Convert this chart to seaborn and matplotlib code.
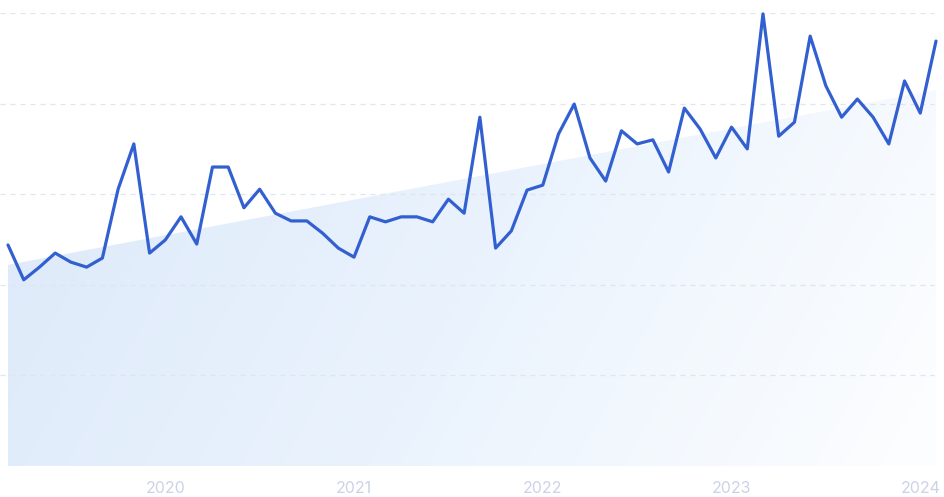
import numpy as np
import pandas as pd
import matplotlib
matplotlib.use('Agg')
import matplotlib.pyplot as plt
import seaborn as sns
from matplotlib.colors import LinearSegmentedColormap

# ---- data ----
start_month = '2019-03'
values = [48.8, 41.1, 43.9, 47.0, 45.0, 43.9, 45.9, 61.1, 71.1, 47.0,
          49.9, 55.0, 49.0, 66.0, 66.0, 57.0, 61.1, 55.8, 54.1, 54.1,
          51.4, 48.1, 46.1, 55.0, 53.9, 55.0, 55.0, 53.9, 58.9, 55.8,
          77.0, 48.1, 51.9, 60.9, 62.0, 73.3, 79.9, 68.0, 62.9, 74.0,
          71.1, 72.0, 64.9, 79.0, 74.4, 68.0, 74.8, 70.0, 99.8, 72.8,
          75.9, 94.9, 83.9, 77.0, 81.0, 77.0, 71.1, 85.0, 77.9, 93.8]
trend_start = 44.4
trend_end = 83.0
tick_years = ['2020', '2021', '2022', '2023', '2024']
y_ticks = [20, 40, 60, 80, 100]

months = pd.date_range(start_month, periods=len(values), freq='MS')
idx = np.arange(len(values))
df = pd.DataFrame({'idx': idx, 'value': values})
tick_pos = [i for i, m in enumerate(months) if m.month == 1]

sns.set_theme(style='white')
plt.rcParams['font.family'] = ['Inter', 'DejaVu Sans']

W, H = 944, 497
fig = plt.figure(figsize=(W / 100, H / 100), dpi=100)
fig.patch.set_facecolor('white')
ax = fig.add_axes([0, 31 / H, 936 / W, 453 / H])
ax.set_facecolor('white')

n = len(values)
step_px = 928 / (n - 1)
ax.set_xlim(-8 / step_px, n - 1)
ax.set_ylim(0, 100)

# gridlines (drawn over the trend area, faint)
for yv in y_ticks:
    ax.axhline(yv, xmax=0.998, color='#dfe5ec', lw=0.9, ls=(0, (4, 4)), zorder=2)

# trend area with gradient
poly = ax.fill_between([0, n - 1], [trend_start, trend_end], 0,
                       color='none', lw=0, zorder=1)
gx = np.linspace(0, 1, 400)
gy = np.linspace(0, 1, 200)
GX, GY = np.meshgrid(gx, gy)
T = 0.82 * GX + 0.18 * GY
cmap = LinearSegmentedColormap.from_list('g', ['#dde9fa', '#eaf3fd', '#fdfeff'])
im = ax.imshow(T, cmap=cmap, extent=(0, n - 1, 0, trend_end + 1), origin='upper',
               aspect='auto', zorder=1, interpolation='bilinear')
im.set_clip_path(poly.get_paths()[0], transform=ax.transData)

sns.lineplot(data=df, x='idx', y='value', ax=ax, color='#3360d0', lw=2.3,
             zorder=3, clip_on=False)

ax.set_xticks(tick_pos)
ax.set_xticklabels(tick_years)
ax.set_yticks([])
ax.tick_params(axis='x', length=0, pad=11, labelsize=11.5, labelcolor='#ccd2e8')
ax.set_xlabel('')
ax.set_ylabel('')
for s in ax.spines.values():
    s.set_visible(False)
ax.grid(False)

fig.savefig('out.png', dpi=100, facecolor='white')
